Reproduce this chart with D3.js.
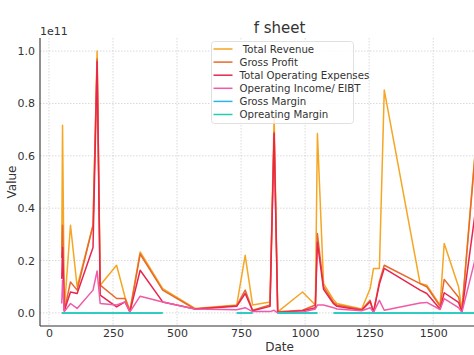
<!DOCTYPE html>
<html><head><meta charset="utf-8">
<script src="https://cdn.jsdelivr.net/npm/d3@7"></script>
<style>
body{margin:0;background:#fff;}
svg{display:block;font-family:"DejaVu Sans",sans-serif;}
</style></head>
<body><svg id="chart" width="474" height="355"></svg>
<script>
// Data (values in raw units; main series read in multiples of 1e11)
const dates = [50,53,60,84,110,172,188,200,264,297,316,356,444,570,733,766,795,863,879,893,990,1040,1048,1072,1111,1124,1221,1254,1267,1290,1309,1449,1475,1527,1543,1599,1612,1665,1700,1750];
const totalRevenue = [0.25,0.717,0.01,0.335,0.10,0.335,1.0,0.106,0.182,0.06,0.01,0.233,0.093,0.017,0.03,0.22,0.03,0.042,0.75,0.004,0.08,0.03,0.685,0.112,0.05,0.036,0.015,0.093,0.17,0.17,0.851,0.112,0.106,0.03,0.265,0.1,0.01,0.63,0.3,0.2];
const grossProfit = [0.21,0.335,0.01,0.118,0.087,0.335,0.97,0.106,0.055,0.055,0.004,0.225,0.087,0.015,0.028,0.087,0.01,0.03,0.69,0.004,0.01,0.03,0.303,0.1,0.04,0.03,0.013,0.048,0.004,0.12,0.182,0.112,0.1,0.025,0.128,0.06,0.005,0.62,0.3,0.2];
const totalOpEx = [0.13,0.25,0.008,0.08,0.074,0.25,0.96,0.068,0.023,0.042,0.004,0.163,0.042,0.015,0.025,0.074,0.008,0.025,0.685,0.002,0.008,0.02,0.27,0.09,0.035,0.025,0.01,0.043,0.004,0.11,0.17,0.087,0.074,0.015,0.077,0.04,0.004,0.39,0.2,0.1];
const operatingIncome = [0.036,0.125,0.005,0.036,0.017,0.087,0.16,0.036,0.03,0.042,0.004,0.064,0.042,0.015,0.012,0.02,0.005,0.005,0.01,0,0.003,0.015,0.03,0.03,0.02,0.015,0.008,0.02,0.002,0.048,0.01,0.038,0.04,0.013,0.055,0.02,0.002,0.21,0.1,0.05];
// margins are percentages (tiny on this scale); null = missing
const grossMargin = [0.45,0.4,0.5,0.42,0.38,0.4,0.41,0.39,0.3,0.35,0.3,0.42,0.4,null,0.4,0.38,0.35,null,null,0.5,0.45,0.4,0.42,null,0.4,0.42,0.4,0.38,0.4,0.41,0.42,0.39,0.4,0.38,0.41,0.4,0.39,0.42,0.4,0.41];
const operatingMargin = [0.12,0.15,0.1,0.11,0.09,0.12,0.13,0.1,0.08,0.09,0.05,0.1,0.11,null,0.1,0.09,0.08,null,null,0.05,0.04,0.06,0.07,null,0.08,0.07,0.06,0.07,0.05,0.09,0.06,0.08,0.09,0.05,0.1,0.07,0.05,0.1,0.09,0.08];
const seriesNames = [" Total Revenue","Gross Profit","Total Operating Expenses","Operating Income/ EIBT","Gross Margin","Opreating Margin"];
const seriesScale = [1e11,1e11,1e11,1e11,1,1];
const seriesColors = ["#f5a623","#e8692c","#e8254e","#f05aa8","#2eb5e8","#1fcfb5"];
const xTicks = [0,250,500,750,1000,1250,1500];
const yTicks = [0,0.2e11,0.4e11,0.6e11,0.8e11,1.0e11];

const seriesData = [totalRevenue,grossProfit,totalOpEx,operatingIncome,grossMargin,operatingMargin];

const svg = d3.select("#chart");
const L=40, T=38, B=326, R=519;
const x = d3.scaleLinear().domain([-35,1835]).range([L,R]);
const y = d3.scaleLinear().domain([-0.05e11,1.05e11]).range([B,T]);

// grid
const grid = svg.append("g");
grid.selectAll(".gx").data(xTicks).join("line")
  .attr("x1",d=>x(d)).attr("x2",d=>x(d)).attr("y1",T).attr("y2",B)
  .attr("stroke","#cfcfcf").attr("stroke-width",0.8).attr("stroke-dasharray","1.5,1.5");
grid.selectAll(".gy").data(yTicks).join("line")
  .attr("x1",L).attr("x2",R).attr("y1",d=>y(d)).attr("y2",d=>y(d))
  .attr("stroke","#cfcfcf").attr("stroke-width",0.8).attr("stroke-dasharray","1.5,1.5");

// lines
const line = d3.line().defined(d=>d[1]!==null).x(d=>x(d[0])).y(d=>y(d[1]));
seriesData.forEach((vals,i)=>{
  const pts = dates.map((dt,j)=>[dt, vals[j]===null?null:vals[j]*seriesScale[i]]);
  svg.append("path").datum(pts).attr("d",line)
    .attr("fill","none").attr("stroke",seriesColors[i]).attr("stroke-width",1.5)
    .attr("stroke-linejoin","round");
});

// axes
const xAxis = svg.append("g").attr("transform",`translate(0,${B})`)
  .call(d3.axisBottom(x).tickValues(xTicks).tickSize(0).tickPadding(3).tickFormat(d3.format("d")));
const yAxis = svg.append("g").attr("transform",`translate(${L},0)`)
  .call(d3.axisLeft(y).tickValues(yTicks).tickSize(0).tickPadding(5).tickFormat(d=>(d/1e11).toFixed(1)));
[xAxis,yAxis].forEach(a=>{
  a.select(".domain").attr("stroke","#333").attr("stroke-width",1.1);
  a.selectAll("text").attr("font-family","DejaVu Sans").attr("font-size",11).attr("fill","#333");
});
xAxis.select(".domain").attr("d",`M${L},0H${R}`);
yAxis.select(".domain").attr("d",`M0,${B}V${T}`);

svg.append("text").attr("x",L).attr("y",35).attr("font-size",11).attr("fill","#333").text("1e11");
svg.append("text").attr("x",(L+R)/2).attr("y",33).attr("text-anchor","middle").attr("font-size",15).attr("fill","#333").text("f sheet");
svg.append("text").attr("x",(L+R)/2).attr("y",351).attr("text-anchor","middle").attr("font-size",12).attr("fill","#333").text("Date");
svg.append("text").attr("transform","translate(16,182) rotate(-90)").attr("text-anchor","middle").attr("font-size",12).attr("fill","#333").text("Value");

// legend
const lg = svg.append("g");
lg.append("rect").attr("x",211.5).attr("y",41.5).attr("width",142).attr("height",82).attr("rx",3)
  .attr("fill","#fff").attr("fill-opacity",0.8).attr("stroke","#d8d8d8").attr("stroke-width",0.8);
seriesNames.forEach((n,i)=>{
  const yy = 49 + i*13.1;
  lg.append("line").attr("x1",213.5).attr("x2",232.5).attr("y1",yy).attr("y2",yy)
    .attr("stroke",seriesColors[i]).attr("stroke-width",1.5);
  lg.append("text").attr("x",239.5).attr("y",yy+3.7).attr("font-size",10.2).attr("fill","#333")
    .attr("xml:space","preserve").style("white-space","pre").text(n);
});
</script></body></html>
